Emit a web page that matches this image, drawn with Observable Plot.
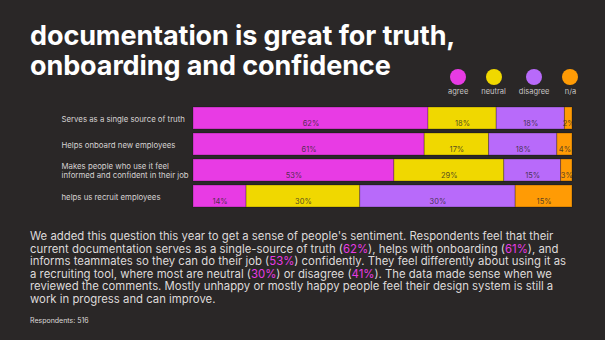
<!DOCTYPE html>
<html>
<head>
<meta charset="utf-8">
<script src="https://cdn.jsdelivr.net/npm/d3@7"></script>
<script src="https://cdn.jsdelivr.net/npm/@observablehq/plot@0.6"></script>
<style>
  html, body { margin: 0; padding: 0; }
  body { width: 605px; height: 340px; background: #2a2727; position: relative; overflow: hidden; font-family: Inter, "Noto Sans", sans-serif; }
  #title { position: absolute; left: 30px; top: 21px; margin: 0; color: #fff; font-size: 27px; line-height: 30px; font-weight: 700; letter-spacing: -0.1px; }
  #legend { position: absolute; left: 448px; top: 69px; display: flex; gap: 13px; align-items: flex-start; }
  #legend .item { display: flex; flex-direction: column; align-items: center; }
  #legend .dot { width: 16px; height: 16px; border-radius: 50%; }
  #legend .lab { font-size: 7.5px; color: #c8c4c4; margin-top: 3px; line-height: 8px; }
  #chart { position: absolute; left: 0; top: 100px; }
  #desc { position: absolute; left: 30px; top: 230px; margin: 0; color: #dedada; font-size: 11.35px; line-height: 12.5px; white-space: nowrap; }
  #desc .hl { color: #e83be4; }
  #resp { position: absolute; left: 30px; top: 316px; color: #dedada; font-size: 7px; }
</style>
</head>
<body>
<h1 id="title">documentation is great for truth,<br>onboarding and confidence</h1>
<div id="legend"></div>
<div id="chart"></div>
<p id="desc">We added this question this year to get a sense of people's sentiment. Respondents feel that their<br>current documentation serves as a single-source of truth (<span class="hl">62%</span>), helps with onboarding (<span class="hl">61%</span>), and<br>informs teammates so they can do their job (<span class="hl">53%</span>) confidently. They feel differently about using it as<br>a recruiting tool, where most are neutral (<span class="hl">30%</span>) or disagree (<span class="hl">41%</span>). The data made sense when we<br>reviewed the comments. Mostly unhappy or mostly happy people feel their design system is still a<br>work in progress and can improve.</p>
<div id="resp">Respondents: 516</div>
<script>
const questions = [
  "Serves as a single source of truth",
  "Helps onboard new employees",
  "Makes people who use it feel\ninformed and confident in their job",
  "helps us recruit employees"
];
const answers = ["agree", "neutral", "disagree", "n/a"];
const colors = ["#e83be4", "#f0d800", "#b86afa", "#ff9b05"];
const agree = [62, 61, 53, 14];
const neutral = [18, 17, 29, 30];
const disagree = [18, 18, 15, 41];
const na = [2, 4, 3, 15];
// labels as printed in the original chart
const printedLabels = [
  ["62%", "18%", "18%", "2%"],
  ["61%", "17%", "18%", "4%"],
  ["53%", "29%", "15%", "3%"],
  ["14%", "30%", "30%", "15%"]
];

const series = [agree, neutral, disagree, na];
const data = [];
questions.forEach((q, i) => {
  answers.forEach((a, j) => {
    data.push({question: q, answer: a, value: series[j][i], label: printedLabels[i][j]});
  });
});

// legend
const legend = document.getElementById("legend");
answers.forEach((a, j) => {
  const it = document.createElement("div");
  it.className = "item";
  const dot = document.createElement("div");
  dot.className = "dot";
  dot.style.background = colors[j];
  const lab = document.createElement("div");
  lab.className = "lab";
  lab.textContent = a;
  it.appendChild(dot); it.appendChild(lab);
  legend.appendChild(it);
});

const chart = Plot.plot({
  width: 605,
  height: 114,
  marginLeft: 193,
  marginRight: 33,
  marginTop: 5,
  marginBottom: 5,
  style: {background: "transparent", fontFamily: "Inter, 'Noto Sans', sans-serif"},
  x: {domain: [0, 100], axis: null},
  y: {domain: questions, axis: null, paddingInner: 0.154, paddingOuter: 0.077},
  color: {domain: answers, range: colors},
  marks: [
    Plot.barX(data, Plot.stackX({
      x: "value", y: "question", fill: "answer", order: answers,
      stroke: "#000", strokeOpacity: 0.25, strokeWidth: 1
    })),
    Plot.text(data, Plot.stackX({
      x: "value", y: "question", z: "answer", order: answers, text: "label",
      fontSize: 7.5, fill: "#2a2727", fillOpacity: 0.8, dy: 5, clip: true
    })),
    Plot.text(questions, {
      y: d => d, text: d => d, frameAnchor: "left", dx: -132, textAnchor: "start",
      fontSize: 7.8, fill: "#d6d2d2", lineHeight: 1.2
    })
  ]
});
document.getElementById("chart").appendChild(chart);
</script>
</body>
</html>
